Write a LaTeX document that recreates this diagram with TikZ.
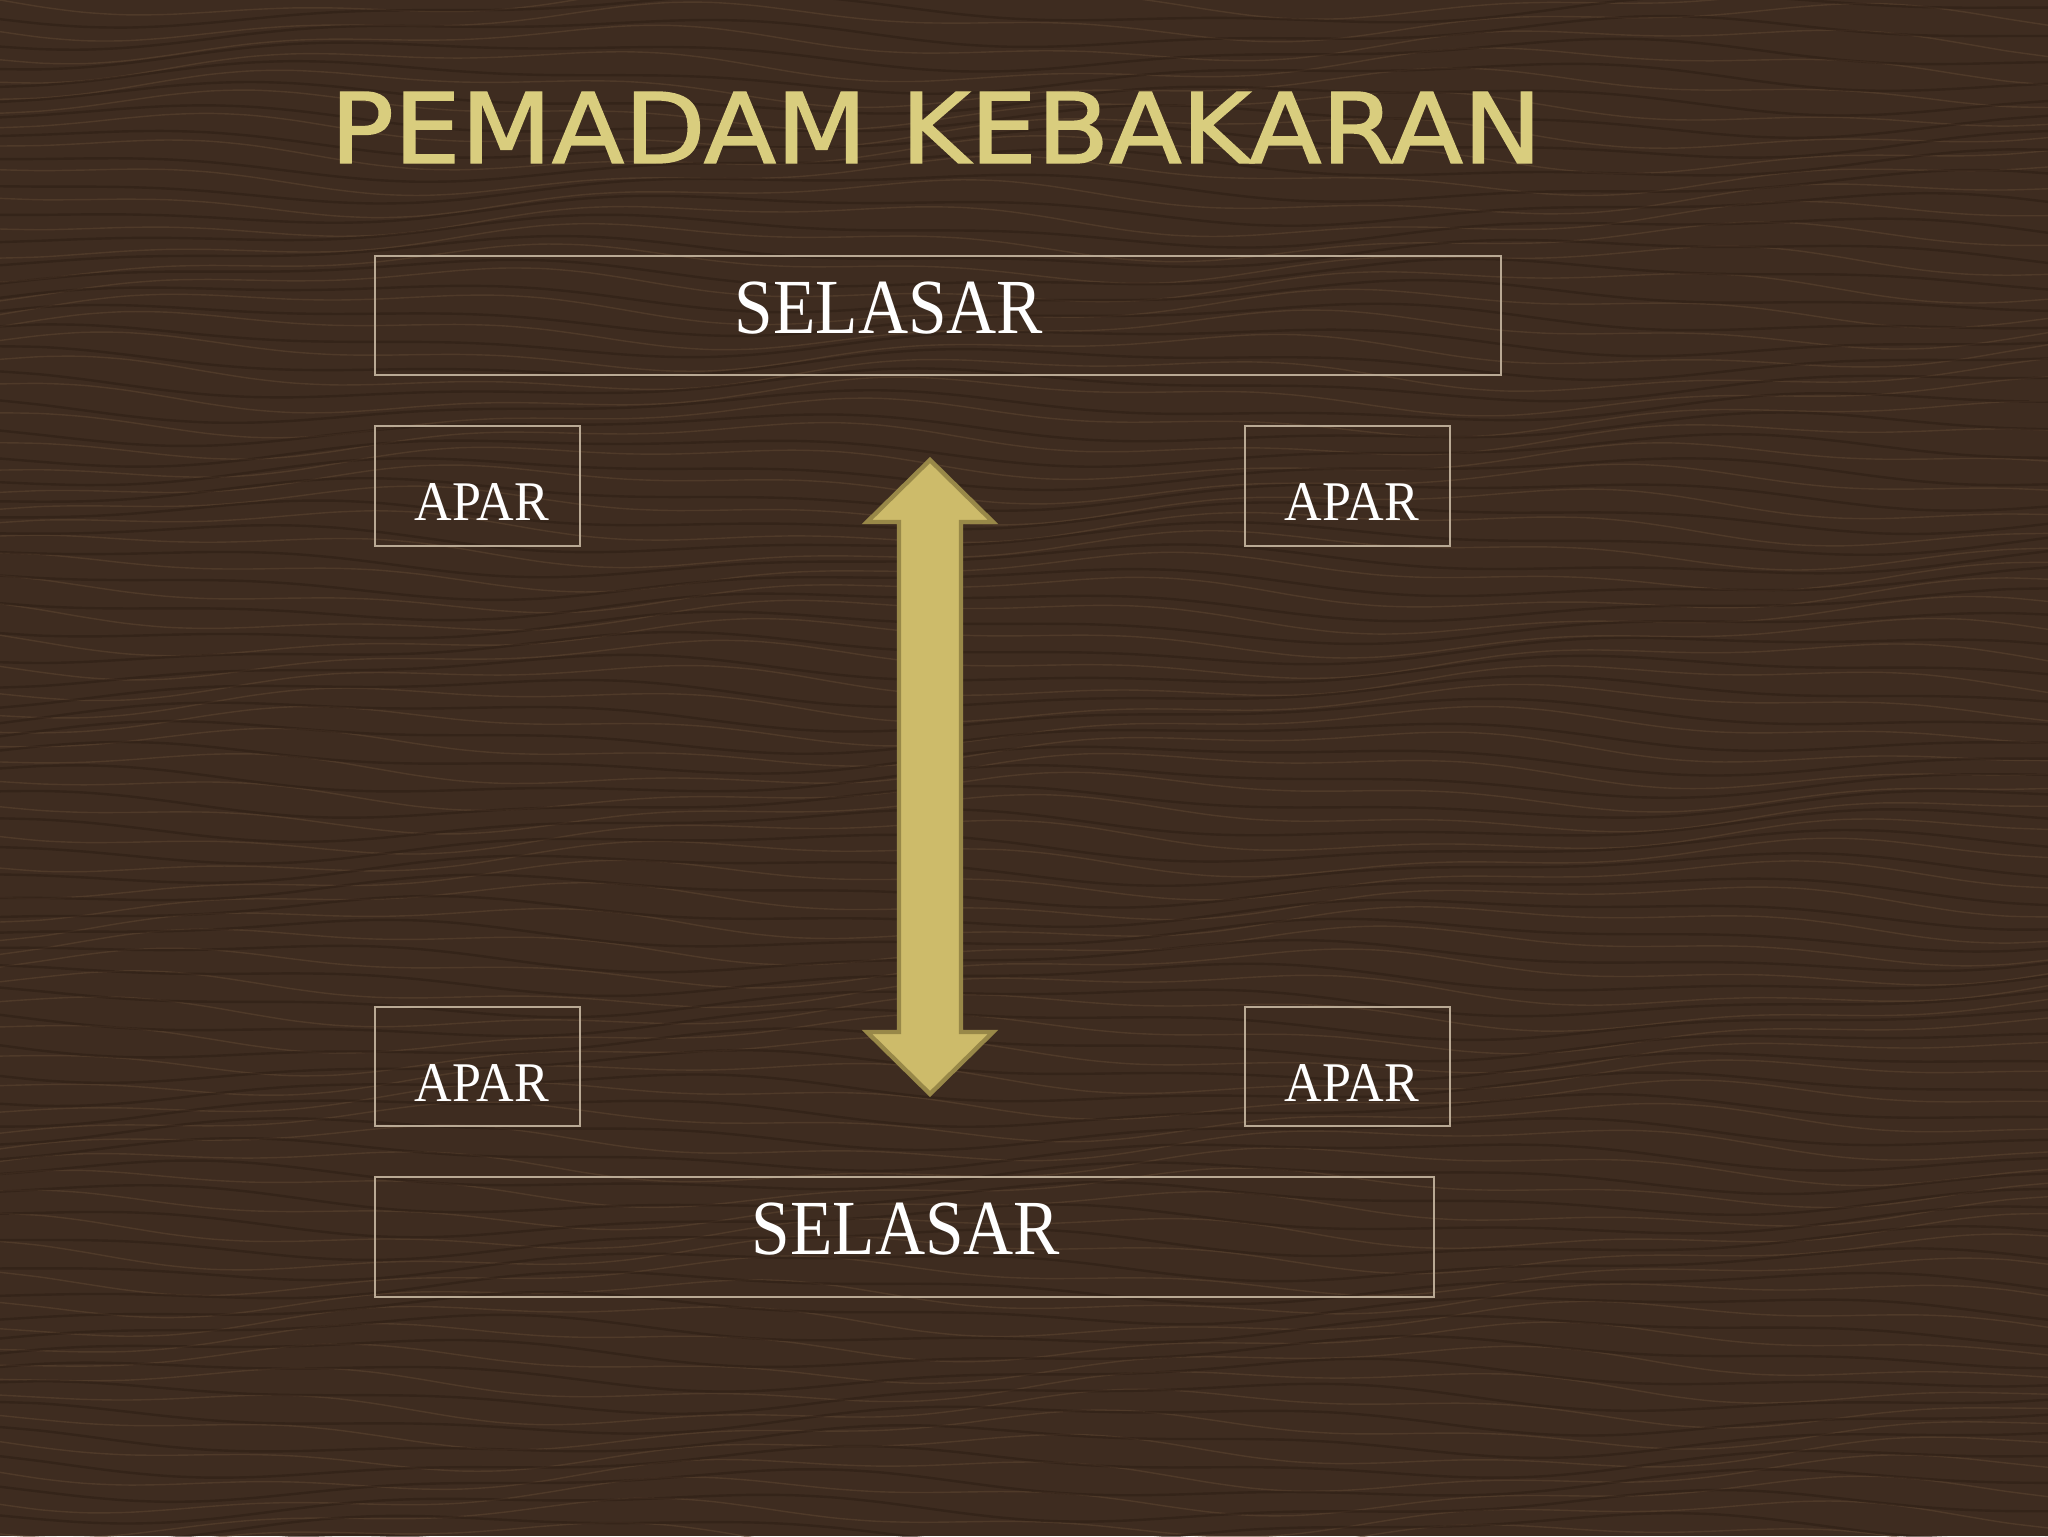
\documentclass[tikz,border=0pt]{standalone}
\usepackage{fontspec}
\setmainfont{Liberation Serif}
\newfontfamily\titlefont[FakeBold=1.5]{DejaVu Sans}
\definecolor{woodbg}{HTML}{3E2C20}
\definecolor{grainlight}{HTML}{5E4632}
\definecolor{graindark}{HTML}{2E1F15}
\definecolor{boxline}{HTML}{B9A994}
\definecolor{arrowfill}{HTML}{CDBB6A}
\definecolor{arrowedge}{HTML}{988848}
\definecolor{titlegold}{HTML}{D9CD7E}
\tikzset{
  framebox/.style={draw=boxline, line width=1.2pt},
  lbl/.style={anchor=base, inner sep=0pt, text=white},
  grainA/.style={draw=grainlight, line width=0.7pt, opacity=0.55},
  grainB/.style={draw=graindark, line width=1.2pt, opacity=0.6},
}
\begin{document}
\begin{tikzpicture}[x=0.5pt, y=-0.5pt]
  \fill[woodbg] (0,0) rectangle (2048,1536);
  \useasboundingbox (0,0) rectangle (2048,1536);
  % wood grain
  \begin{scope}
    \clip (0,0) rectangle (2048,1536);
    \foreach \yy in {0,22,...,1560} {
      \draw[grainA] plot[domain=0:2048, samples=50, smooth]
        (\x, {\yy + 14*sin(\x*0.33 + \yy*1.7) + 6*sin(\x*0.9 + \yy*0.5)});
    }
    \foreach \yy in {11,33,...,1560} {
      \draw[grainB] plot[domain=0:2048, samples=50, smooth]
        (\x, {\yy + 12*sin(\x*0.33 + \yy*1.7 + 20) + 5*sin(\x*0.8 + \yy*0.7)});
    }
  \end{scope}
  % title
  \node[anchor=base, inner sep=0pt, text=titlegold] (title) at (936,163)
    {\titlefont\fontsize{48.7}{50}\selectfont\scalebox{1.085}[1]{PEMADAM KEBAKARAN}};
  % boxes
  \draw[framebox] (375,256) rectangle (1501,375);
  \draw[framebox] (375,426) rectangle (580,546);
  \draw[framebox] (1245,426) rectangle (1450,546);
  \draw[framebox] (375,1007) rectangle (580,1126);
  \draw[framebox] (1245,1007) rectangle (1450,1126);
  \draw[framebox] (375,1177) rectangle (1434,1297);
  % labels
  \node[lbl] (selasarTop) at (889,333) {\fontsize{39}{40}\selectfont\scalebox{0.89}[1]{SELASAR}};
  \node[lbl] (selasarBot) at (906,1254) {\fontsize{39}{40}\selectfont\scalebox{0.89}[1]{SELASAR}};
  \node[lbl] (aparTL) at (482,520) {\fontsize{28}{29}\selectfont\scalebox{0.93}[1]{APAR}};
  \node[lbl] (aparTR) at (1352,520) {\fontsize{28}{29}\selectfont\scalebox{0.93}[1]{APAR}};
  \node[lbl] (aparBL) at (482,1101) {\fontsize{28}{29}\selectfont\scalebox{0.93}[1]{APAR}};
  \node[lbl] (aparBR) at (1352,1101) {\fontsize{28}{29}\selectfont\scalebox{0.93}[1]{APAR}};
  % double arrow
  \filldraw[fill=arrowfill, draw=arrowedge, line width=2.2pt, line join=miter]
    (930,460) -- (993,522) -- (961,522) -- (961,1032) -- (993,1032) -- (930,1094)
    -- (867,1032) -- (899,1032) -- (899,522) -- (867,522) -- cycle;
\end{tikzpicture}
\end{document}
